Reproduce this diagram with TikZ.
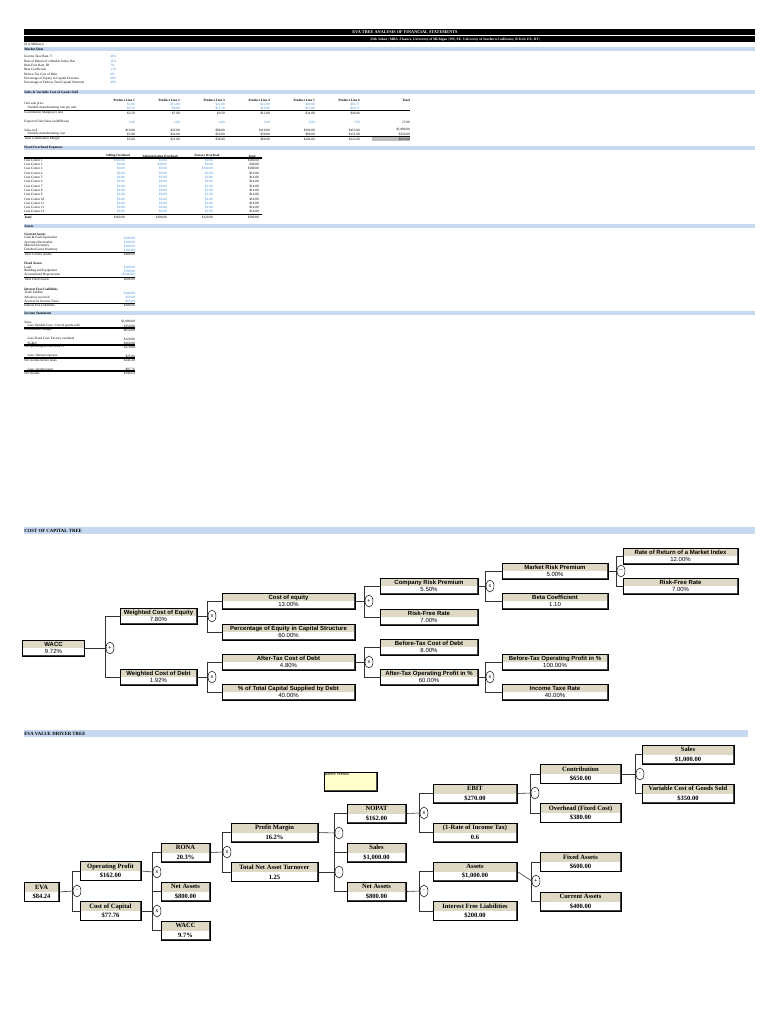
\documentclass[tikz,border=0pt]{standalone}
\usepackage{fontspec}
\setmainfont{Liberation Serif}
\newfontfamily\arialf{Liberation Sans}
\usetikzlibrary{shapes.geometric,backgrounds}
\definecolor{tanone}{HTML}{DDD9C4}
\definecolor{hblue}{HTML}{C6D9F0}
\definecolor{vblue}{HTML}{3C8AD6}
\definecolor{cmtyel}{HTML}{FFFFCC}
\tikzset{
 tinyf/.style={font=\fontsize{2.5}{3}\selectfont, inner sep=0},
 lft/.style={tinyf, anchor=west},
 rgt/.style={tinyf, anchor=east},
 hdr/.style={lft, font=\bfseries\fontsize{2.6}{3}\selectfont},
 colh/.style={tinyf, font=\bfseries\fontsize{2.4}{3}\selectfont},
 bw/.style={minimum width=#1*0.75pt},
 shadowpp/.style={path picture={
   \fill[tanone] (path picture bounding box.north west) rectangle (path picture bounding box.east);
   \draw[line width=1.3pt, black!75] (path picture bounding box.south west) -- (path picture bounding box.south east) -- (path picture bounding box.north east);}},
 cbox/.style={draw=black, fill=white, line width=0.35pt, minimum height=12pt, inner sep=0, align=center,
   font=\arialf\fontsize{4.5}{5.6}\selectfont, shadowpp},
 ebox/.style={draw=black, fill=white, line width=0.35pt, minimum height=14.5pt, inner sep=0, align=center,
   font=\bfseries\fontsize{4.9}{7.2}\selectfont, shadowpp},
 opn/.style={ellipse, draw, fill=white, line width=0.35pt, minimum width=6pt, minimum height=9pt, inner sep=0,
   font=\arialf\fontsize{4}{4}\selectfont},
 conn/.style={draw=black!80, line width=0.45pt},
 secbar/.style={fill=hblue, draw=none},
}
\newcommand\cb[6]{\node[cbox,bw=#4] (#1) at (#2,#3) {\textbf{#5}\\#6};}
\newcommand\eb[6]{\node[ebox,bw=#4] (#1) at (#2,#3) {#5\\#6};}
\newcommand\opx[4]{\node[opn] (#1) at (#2,#3) {#4};}
\newcommand\tconn[4]{\draw[conn] (#1.east) -- (#2.west); \draw[conn] (#3.west) -| (#2.west) |- (#4.west);}
\begin{document}
\begin{tikzpicture}[x=0.75pt,y=-0.75pt]
\useasboundingbox (0,0) rectangle (768,1024);
% ---------- title bars
\fill[black] (24,29) rectangle (755,35);
\fill[black] (24,36.5) rectangle (755,42);
\node[tinyf, text=white, font=\bfseries\fontsize{3.2}{3.5}\selectfont] (ttl) at (405,32) {EVA TREE ANALYSIS OF FINANCIAL STATEMENTS};
\node[tinyf, text=white, font=\bfseries\fontsize{2.6}{3}\selectfont] (sub) at (455,39.3) {| Deb Sahoo | MBA, Finance, University of Michigan | MS, EE, University of Southern California | B.Tech, EE, IIT |};
\node[lft] (mil) at (24,45) {(\$ in Millions)};
% ---------- market data
\fill[secbar] (24,47.5) rectangle (755,51.5);
\node[hdr] (mdh) at (24,49.5) {Market Data};
\foreach \lab/\v [count=\i] in {{Income Taxe Rate, T}/40\%, {Rate of Return of a Market Index, Rm}/12\%, {Risk-Free Rate, Rf}/7\%, Beta Coefficient/1.10, Before-Tax Cost of Debt/8\%, Percentage of Equity in Capital Structure/60\%, Percentage of Debt in Total Capital Structure/40\%}{
  \node[lft] (mdl\i) at (24,{52.5+4.3*\i}) {\lab};
  \node[lft, text=vblue] (mdv\i) at (110,{52.5+4.3*\i}) {\v};}
% ---------- sales table
\fill[secbar] (24,90) rectangle (755,94);
\node[hdr] (svh) at (24,92) {Sales \& Variable Cost of Goods Sold};
\foreach \j in {1,...,6}{\node[rgt, font=\bfseries\fontsize{2.5}{3}\selectfont] (ph\j) at ({90+45*\j},100) {Product Line \j};}
\node[rgt, font=\bfseries\fontsize{2.5}{3}\selectfont] (pht) at (410,100) {Total};
\fill[black!25] (372,137) rectangle (410,141);
\foreach \yy/\lab/\col/\vals/\tot [count=\r] in {
 104/Unit sale price/vblue/{\$5.00,\$15.00,\$22.00,\$22.00,\$49.00,\$64.71}/{},
 108/{\quad Variable manufacturing cost per unit}/vblue/{\$2.50,\$8.00,\$12.50,\$10.00,\$15.00,\$18.71}/{},
 113/Contribution Margin per unit/black/{\$2.50,\$7.00,\$9.50,\$12.00,\$34.00,\$46.00}/{},
 122/Expected Unit Sales in (Millions)/vblue/{2.00,3.00,4.00,5.00,6.00,7.00}/27.00,
 130/Sales in \$/black/{\$10.00,\$45.00,\$88.00,\$110.00,\$294.00,\$453.00}/{\$1,000.00},
 134/{\quad Variable manufacturing cost}/black/{\$5.00,\$24.00,\$50.00,\$50.00,\$90.00,\$131.00}/{\$350.00},
 139/Total Contribution Margin/black/{\$5.00,\$21.00,\$38.00,\$60.00,\$204.00,\$322.00}/{\$650.00}}{
  \node[lft] (sl\r) at (24,\yy) {\lab};
  \foreach \v [count=\j] in \vals {\node[rgt, text=\col] (sv\r-\j) at ({90+45*\j},\yy) {\v};}
  \node[rgt] (st\r) at (410,\yy) {\tot};}
\draw[line width=0.9pt] (24,110.5) -- (410,110.5);
\draw[line width=0.9pt] (24,136.5) -- (410,136.5);
% ---------- fixed overhead
\fill[secbar] (24,146) rectangle (755,150);
\node[hdr] (foh) at (24,148) {Fixed Overhead Expenses};
\node[colh] (fh1) at (118,156) {Selling Overhead};
\node[colh] (fh2) at (160,156) {Administration Overhead};
\node[colh] (fh3) at (207,156) {Factory Overhead};
\node[colh] (fh4) at (252,156) {Total};
\draw[line width=0.8pt] (24,158) -- (262,158);
\foreach \a/\b/\c/\t [count=\i] in {100.00/0.00/0.00/100.00, 0.00/40.00/0.00/40.00, 0.00/0.00/100.00/100.00,
  6.00/6.00/2.00/14.00, 6.00/6.00/2.00/14.00, 6.00/6.00/2.00/14.00, 6.00/6.00/2.00/14.00, 6.00/6.00/2.00/14.00,
  6.00/6.00/2.00/14.00, 6.00/6.00/2.00/14.00, 6.00/6.00/2.00/14.00, 6.00/6.00/2.00/14.00, 6.00/6.00/2.00/14.00}{
  \node[lft] (cc\i) at (24,{156+4.3*\i}) {Cost Center \i};
  \node[rgt, text=vblue] (ca\i) at (125,{156+4.3*\i}) {\$\a};
  \node[rgt, text=vblue] (cb\i) at (167,{156+4.3*\i}) {\$\b};
  \node[rgt, text=vblue] (cc\i v) at (213,{156+4.3*\i}) {\$\c};
  \node[rgt] (ct\i) at (259,{156+4.3*\i}) {\$\t};}
\draw[line width=0.9pt] (24,214.5) -- (262,214.5);
\node[lft, font=\bfseries\fontsize{2.5}{3}\selectfont] (cct) at (24,217.5) {Total};
\node[rgt] (cct1) at (125,217.5) {\$160.00};
\node[rgt] (cct2) at (167,217.5) {\$100.00};
\node[rgt] (cct3) at (213,217.5) {\$120.00};
\node[rgt] (cct4) at (259,217.5) {\$380.00};
% ---------- assets
\fill[secbar] (24,224) rectangle (755,228);
\node[hdr] (ash) at (24,226) {Assets};
\foreach \yy/\lab/\v/\col [count=\i] in {
 234/\textbf{Current Assets}/{}/black, 238/Cash \& Cash Equivalent/\$100.00/vblue, 242/Accounts Receivable/\$100.00/vblue,
 246/Material Inventory/\$100.00/vblue, 250/Finished Good Inventory/\$100.00/vblue, 254/Total Current Assets/\$400.00/black,
 263/\textbf{Fixed Assets}/{}/black, 267/Land/\$100.00/vblue, 271/Building and Equipment/\$700.00/vblue,
 275/Accumulated Depreciation/(\$200.00)/vblue, 279/Total Fixed Assets/\$600.00/black,
 289/\textbf{Interest Free Liabilities}/{}/black, 293/Trade liability/\$100.00/vblue, 297/Advances received/\$50.00/vblue,
 301/Accrual for Income Taxes/\$50.00/vblue, 305/Interest free Liabilities/\$200.00/black}{
  \node[lft] (al\i) at (24,\yy) {\lab};
  \node[rgt, text=\col] (av\i) at (135,\yy) {\v};}
\draw[line width=0.7pt] (24,252) -- (135,252);
\draw[line width=0.7pt] (24,277) -- (135,277);
\draw[line width=0.7pt] (24,303) -- (135,303);
% ---------- income statement
\fill[secbar] (24,311) rectangle (755,315);
\node[hdr] (ish) at (24,313) {Income Statement};
\foreach \yy/\lab/\v [count=\i] in {
 322/Sales/{\$1,000.00}, 326/{\quad Less Variable Cost: Cost of goods sold}/\$350.00, 330/Contribution Margin/\$650.00,
 339/{\quad Less Fixed Cost: Factory overhead}/\$120.00, 343/{\quad SG\&A}/\$260.00, 347/Net operating income (EBIT)/\$270.00,
 356/{\quad Less: Interest expense}/\$25.60, 360/Net income before taxes/\$244.40,
 369/{\quad Less: Income taxes}/\$97.76, 373/Net income/\$146.64}{
  \node[lft] (il\i) at (24,\yy) {\lab};
  \node[rgt] (iv\i) at (135,\yy) {\v};}
\draw[line width=0.8pt] (24,328) -- (135,328);
\draw[line width=0.8pt] (24,345) -- (135,345);
\draw[line width=0.8pt] (24,358) -- (135,358);
\draw[line width=0.8pt] (24,371) -- (135,371);
% =========== COST OF CAPITAL TREE
\fill[secbar] (24,527) rectangle (755,534);
\node[lft, font=\bfseries\fontsize{3.6}{4}\selectfont] (cch) at (24,530.5) {COST OF CAPITAL TREE};
\cb{wacc}{53.5}{648}{62}{WACC}{9.72\%}
\cb{wce}{158.5}{616}{77}{Weighted Cost of Equity}{7.80\%}
\cb{wcd}{158.5}{677}{77}{Weighted Cost of Debt}{1.92\%}
\cb{coe}{288.5}{601}{133}{Cost of equity}{13.00\%}
\cb{pce}{288.5}{632}{133}{Percentage of Equity in Capital Structure}{60.00\%}
\cb{atcd}{288.5}{662}{133}{After-Tax Cost of Debt}{4.80\%}
\cb{pcd}{288.5}{692}{133}{\% of Total Capital Supplied by Debt}{40.00\%}
\cb{crp}{429}{586}{98}{Company Risk Premium}{5.50\%}
\cb{rfr}{429}{617}{98}{Risk-Free Rate}{7.00\%}
\cb{btcd}{429}{647}{98}{Before-Tax Cost of Debt}{8.00\%}
\cb{atop}{429}{677}{98}{After-Tax Operating Profit in \%}{60.00\%}
\cb{mrp}{555}{571}{106}{Market Risk Premium}{5.00\%}
\cb{beta}{555}{601}{106}{Beta Coefficient}{1.10}
\cb{btop}{555}{662}{106}{Before-Tax Operating Profit in \%}{100.00\%}
\cb{itr}{555}{692}{106}{Income Taxe Rate}{40.00\%}
\cb{rrm}{680.5}{556}{115}{Rate of Return of a Market Index}{12.00\%}
\cb{rfrb}{680.5}{586}{115}{Risk-Free Rate}{7.00\%}
\opx{oa}{110}{648}{+}
\opx{ob}{212}{616}{x}
\opx{oc}{212}{677}{x}
\opx{od}{369}{601}{+}
\opx{oe}{369}{662}{x}
\opx{of}{490}{586}{x}
\opx{og}{490}{677}{x}
\opx{oh}{621}{571}{--}
% =========== EVA VALUE DRIVER TREE
\fill[secbar] (24,730) rectangle (748,737);
\node[lft, font=\bfseries\fontsize{3.6}{4}\selectfont] (evh) at (24,733.5) {EVA VALUE DRIVER TREE};
\node[draw=black, fill=cmtyel, minimum width=39.75pt, minimum height=14.25pt, inner sep=0,
  path picture={\draw[line width=1.2pt, black!70] (path picture bounding box.south west) -- (path picture bounding box.south east) -- (path picture bounding box.north east);}] (cmt) at (350.5,781.5) {};
\node[anchor=north west, inner sep=0.6pt, font=\arialf\fontsize{2.8}{3}\selectfont] (cmtt) at (cmt.north west) {Before interest};
\eb{eva}{41.5}{892}{35}{EVA}{\$84.24}
\eb{opp}{110.5}{871}{61}{Operating Profit}{\$162.00}
\eb{coc}{110.5}{911}{61}{Cost of Capital}{\$77.76}
\eb{rona}{185.5}{852.5}{49}{RONA}{20.3\%}
\eb{naa}{185.5}{891.5}{49}{Net Assets}{\$800.00}
\eb{waccb}{185.5}{930.5}{49}{WACC}{9.7\%}
\eb{pm}{274.5}{832.5}{87}{Profit Margin}{16.2\%}
\eb{tnat}{274.5}{872}{87}{Total Net Asset Turnover}{1.25}
\eb{nopat}{376.5}{813.5}{59}{NOPAT}{\$162.00}
\eb{salesa}{376.5}{852.5}{59}{Sales}{\$1,000.00}
\eb{nab}{376.5}{891.5}{59}{Net Assets}{\$800.00}
\eb{ebit}{475}{793.5}{84}{EBIT}{\$270.00}
\eb{rit}{475}{832.5}{84}{(1-Rate of Income Tax)}{0.6}
\eb{assets}{475}{871.5}{84}{Assets}{\$1,000.00}
\eb{ifl}{475}{911}{84}{Interest Free Liabilities}{\$200.00}
\eb{contr}{580.5}{774}{81}{Contribution}{\$650.00}
\eb{ovh}{580.5}{813}{81}{Overhead (Fixed Cost)}{\$380.00}
\eb{fa}{580.5}{862}{81}{Fixed Assets}{\$600.00}
\eb{ca}{580.5}{901.5}{81}{Current Assets}{\$400.00}
\eb{salesb}{688}{754.5}{92}{Sales}{\$1,000.00}
\eb{vcgs}{688}{793.5}{92}{Variable Cost of Goods Sold}{\$350.00}
\opx{e1}{77}{891}{-}
\opx{e2}{157}{872}{x}
\opx{e3}{157}{911}{x}
\opx{e4}{227}{852}{x}
\opx{e5}{339}{833}{:}
\opx{e6}{339}{872}{:}
\opx{e7}{424}{813}{x}
\opx{e8}{424}{891}{-}
\opx{e9}{535}{793}{-}
\opx{e10}{536}{881}{+}
\opx{e11}{640}{774}{-}
\begin{scope}[on background layer]
\tconn{wacc}{oa}{wce}{wcd}
\tconn{wce}{ob}{coe}{pce}
\tconn{wcd}{oc}{atcd}{pcd}
\tconn{coe}{od}{crp}{rfr}
\tconn{atcd}{oe}{btcd}{atop}
\tconn{crp}{of}{mrp}{beta}
\tconn{atop}{og}{btop}{itr}
\tconn{mrp}{oh}{rrm}{rfrb}
\tconn{eva}{e1}{opp}{coc}
\tconn{opp}{e2}{rona}{naa}
\tconn{coc}{e3}{naa}{waccb}
\tconn{rona}{e4}{pm}{tnat}
\tconn{pm}{e5}{nopat}{salesa}
\tconn{tnat}{e6}{salesa}{nab}
\tconn{nopat}{e7}{ebit}{rit}
\tconn{nab}{e8}{assets}{ifl}
\tconn{ebit}{e9}{contr}{ovh}
\tconn{assets}{e10}{fa}{ca}
\tconn{contr}{e11}{salesb}{vcgs}
\end{scope}
\end{tikzpicture}
\end{document}
